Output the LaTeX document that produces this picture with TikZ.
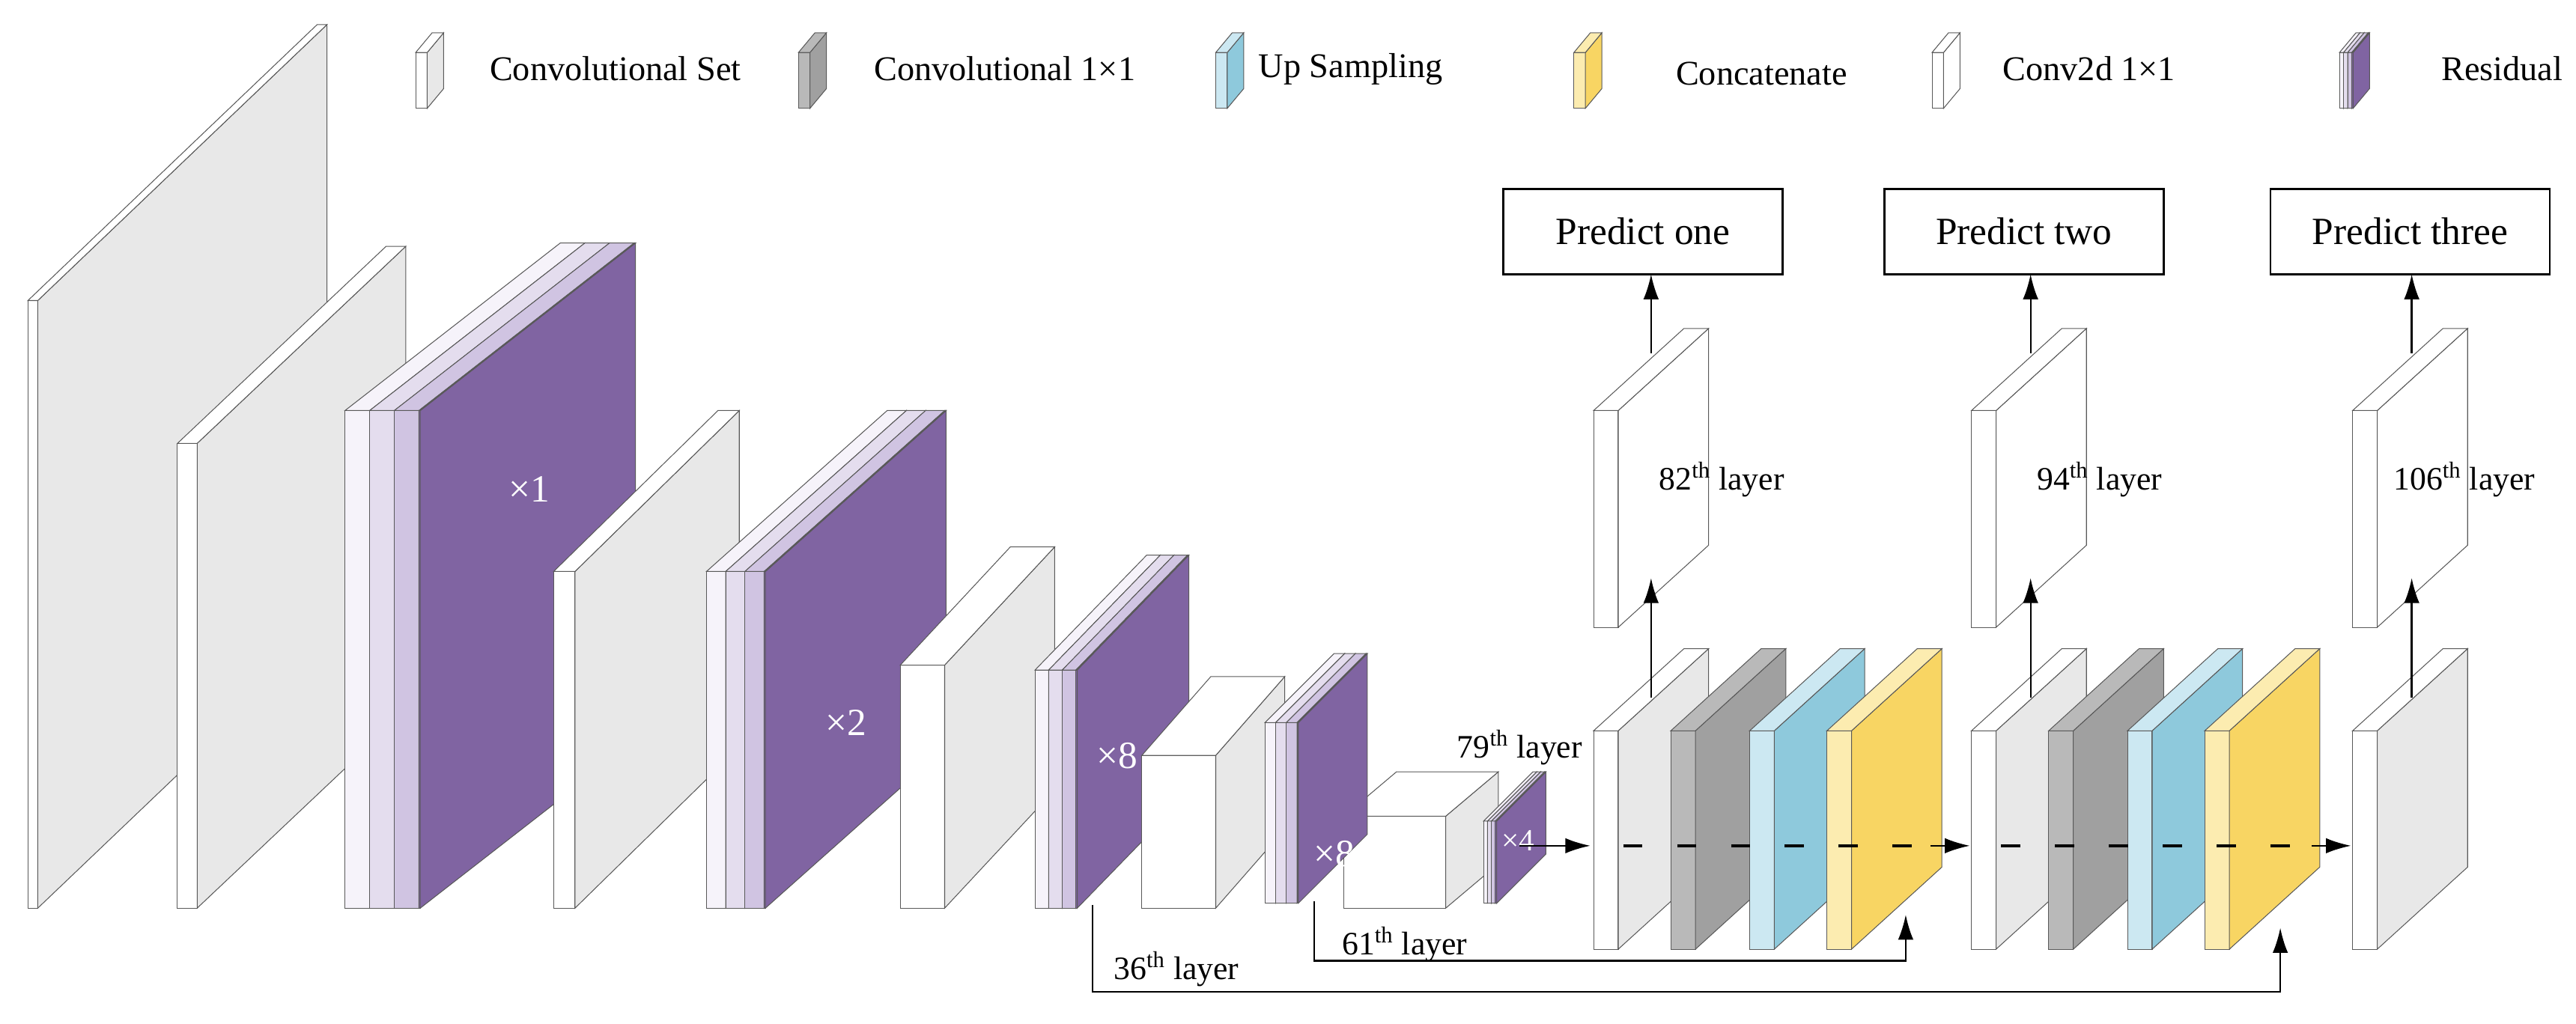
\documentclass[tikz,border=0pt]{standalone}
\usepackage{fontspec}
\setmainfont{Liberation Serif}
\usetikzlibrary{arrows.meta}
\definecolor{sidegray}{RGB}{232,232,232}
\definecolor{convfront}{RGB}{185,185,185}
\definecolor{convside}{RGB}{160,160,160}
\definecolor{upfront}{RGB}{204,232,242}
\definecolor{upside}{RGB}{142,201,220}
\definecolor{catfront}{RGB}{252,236,176}
\definecolor{catside}{RGB}{248,213,99}
\definecolor{resA}{RGB}{246,243,250}
\definecolor{resB}{RGB}{228,221,238}
\definecolor{resC}{RGB}{208,196,226}
\definecolor{resD}{RGB}{128,100,162}
% slab: x, bottom y, front width, height, depth x, depth y, front colour, side colour
\newcommand{\slab}[8]{%
	\filldraw[slab line, fill=#7] (#1,#2) rectangle ({#1+#3},{#2-#4});
	\filldraw[slab line, fill=#8] ({#1+#3},#2) -- ++(0,-#4) -- ++(#5,-#6) -- ++(0,#4) -- cycle;
	\filldraw[slab line, fill=#7] (#1,{#2-#4}) -- ++(#3,0) -- ++(#5,-#6) -- ++(-#3,0) -- cycle;}
% residual stack: x, bottom y, height, depth x, depth y, gap
\newcommand{\resstack}[6]{%
	\foreach \c [count=\i from 0] in {resA,resB,resC}
		\slab{#1+\i*#6}{#2}{#6}{#3}{#4}{#5}{\c}{\c};
	\slab{#1+3*#6}{#2}{0.8}{#3}{#4}{#5}{resD}{resD};}
\tikzset{
	slab line/.style={draw=black!65, line width=0.4pt},
	legend/.style={font=\fontsize{18}{20}\selectfont, anchor=west},
	layer/.style={font=\fontsize{17}{19}\selectfont},
	times/.style={font=\fontsize{20}{22}\selectfont, text=white},
	predict/.style={draw, line width=1pt, minimum width=170*0.3mm, minimum height=52*0.3mm, font=\fontsize{20}{22}\selectfont},
	link/.style={line width=0.9pt, -{Latex[length=13pt,width=8pt]}}}
\begin{document}
\begin{tikzpicture}[x=0.3mm,y=-0.3mm]
	\useasboundingbox (0,0) rectangle (1568,623.5);

	% legend
	\slab{253}{66}{7}{34}{10}{12}{white}{sidegray}
	\node[legend] (lset) at (294,42) {Convolutional Set};
	\slab{486}{66}{7}{34}{10}{12}{convfront}{convside}
	\node[legend] (lconv) at (528,42) {Convolutional 1×1};
	\slab{740}{66}{7}{34}{10}{12}{upfront}{upside}
	\node[legend] (lup) at (762,42) {Up Sampling};
	\slab{958}{66}{7}{34}{10}{12}{catfront}{catside}
	\node[legend] (lcat) at (1016,45) {Concatenate};
	\slab{1176}{66}{7}{34}{10}{12}{white}{white}
	\node[legend] (lout) at (1215,42) {Conv2d 1×1};
	\resstack{1424}{66}{34}{10}{12}{2.5}
	\node[legend] (lres) at (1482,42) {Residual};

	% backbone
	\slab{17}{553}{6}{370}{176}{168}{white}{sidegray}
	\slab{108}{553}{12}{283}{127}{120}{white}{sidegray}
	\resstack{210}{553}{303}{131}{102}{15}
	\node[times] (r1) at (322,298) {×1};
	\slab{337}{553}{13}{205}{100}{98}{white}{sidegray}
	\resstack{430}{553}{205}{110}{98}{11.7}
	\node[times] (r2) at (515,440) {×2};
	\slab{548}{553}{27}{148}{67}{72}{white}{sidegray}
	\resstack{630}{553}{145}{68}{70}{8.3}
	\node[times] (r3) at (680,460) {×8};
	\slab{695}{553}{45}{93}{42}{48}{white}{sidegray}
	\slab{818}{553}{62}{56}{32}{27}{white}{sidegray}
	\resstack{770}{550}{110}{42}{42}{6.5}
	\node[times] (r4) at (812,520) {×8};
	\resstack{903}{550}{50}{30}{30}{2.4}
	\node[times, font=\fontsize{16}{18}\selectfont] (r5) at (924,512) {×4};

	% detection heads
	\foreach \x in {970,1200} {
		\slab{\x}{578}{15}{133}{55}{50}{white}{sidegray}
		\slab{\x+47}{578}{15}{133}{55}{50}{convfront}{convside}
		\slab{\x+95}{578}{15}{133}{55}{50}{upfront}{upside}
		\slab{\x+142}{578}{15}{133}{55}{50}{catfront}{catside}
	}
	\slab{1432}{578}{15}{133}{55}{50}{white}{sidegray}
	\foreach \x in {970,1200,1432}
		\slab{\x}{382}{15}{132}{55}{50}{white}{white};

	\node[layer] (l82) at (1048,292) {82\textsuperscript{th} layer};
	\node[layer] (l94) at (1278,292) {94\textsuperscript{th} layer};
	\node[layer] (l106) at (1500,292) {106\textsuperscript{th} layer};
	\node[layer] (l79) at (925,455) {79\textsuperscript{th} layer};
	\node[layer] (l61) at (855,575) {61\textsuperscript{th} layer};
	\node[layer] (l36) at (716,590) {36\textsuperscript{th} layer};

	\node[predict] (p1) at (1000,141) {Predict one};
	\node[predict] (p2) at (1232,141) {Predict two};
	\node[predict] (p3) at (1467,141) {Predict three};

	% connectors
	\coordinate (h1in) at (968,515);
	\coordinate (h1out) at (925,515);
	\coordinate (h2in) at (1199,515);
	\coordinate (h3in) at (1431,515);
	\coordinate (d1) at (988,515);
	\coordinate (d2) at (1218,515);
	\draw[link] (h1out) -- (h1in);
	\draw[line width=1.4pt, dash pattern=on 10pt off 18pt] (d1) -- ++(190,0);
	\draw[line width=1.4pt, dash pattern=on 10pt off 18pt] (d2) -- ++(190,0);
	\draw[link] (1175,515) -- (h2in);
	\draw[link] (1407,515) -- (h3in);
	\foreach \x/\p in {1005/p1,1236/p2,1468/p3} {
		\draw[link] (\x,425) -- (\x,352);
		\draw[link] (\x,215) -- (\x,167);
	}
	\coordinate (s36) at (665,551);
	\coordinate (s61) at (800,549);
	\draw[link] (s36) |- (1388,604) -- (1388,565);
	\draw[link] (s61) |- (1160,585) -- (1160,557);
\end{tikzpicture}
\end{document}
